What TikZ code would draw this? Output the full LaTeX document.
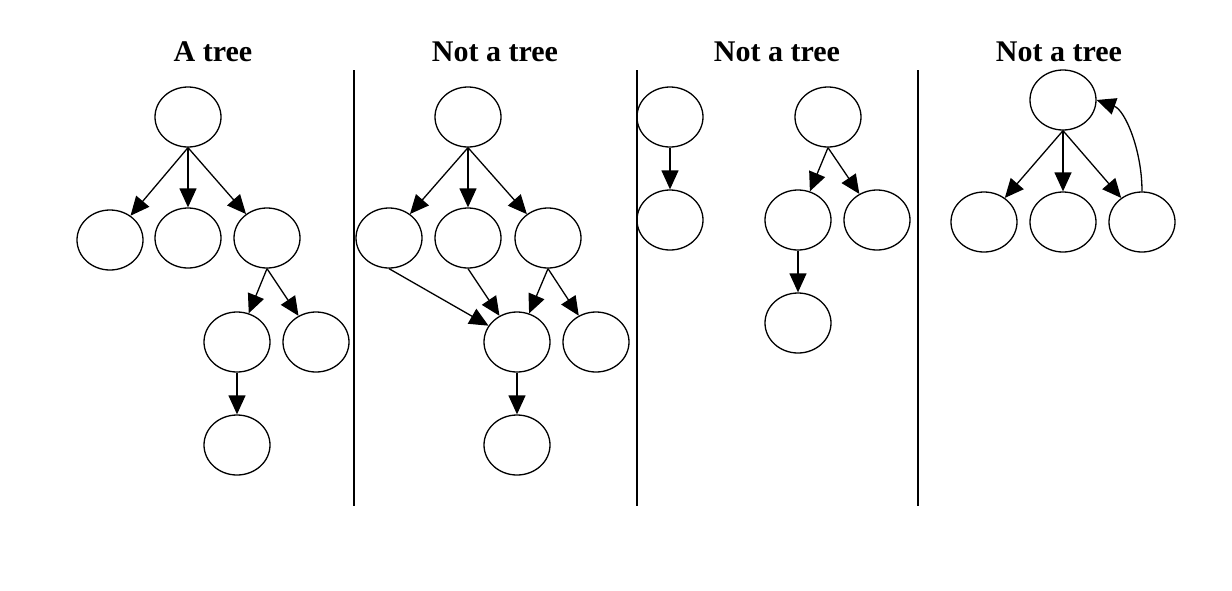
\documentclass[tikz,border=0pt]{standalone}
\usepackage{fontspec}
\setmainfont{Liberation Serif}
\usetikzlibrary{arrows.meta,shapes.geometric}
\begin{document}
\begin{tikzpicture}[x=1pt,y=-1pt,
  n/.style={draw,ellipse,minimum width=66pt,minimum height=60pt,inner sep=0pt,line width=1.3pt},
  e/.style={line width=1.3pt,-{Triangle[length=19pt,width=17pt]}},
  t/.style={font=\fontsize{30}{32}\selectfont\bfseries},
  sep/.style={line width=2.2pt}]
\useasboundingbox (0,0) rectangle (1232,590);
% panel 1
\node[t] (t1) at (213,52) {A tree};
\node[n] (a0) at (188,117) {};
\node[n] (a1) at (110,240) {};
\node[n] (a2) at (188,238) {};
\node[n] (a3) at (267,238) {};
\node[n] (a4) at (237,342) {};
\node[n] (a5) at (316,342) {};
\node[n] (a6) at (237,445) {};
\draw[e] (a0.south) -- (a1);
\draw[e] (a0.south) -- (a2);
\draw[e] (a0.south) -- (a3);
\draw[e] (a3.south) -- (a4);
\draw[e] (a3.south) -- (a5);
\draw[e] (a4) -- (a6);
% dividers
\coordinate (d1t) at (354,70); \coordinate (d1b) at (354,506);
\coordinate (d2t) at (637,70); \coordinate (d2b) at (637,506);
\coordinate (d3t) at (918,70); \coordinate (d3b) at (918,506);
\draw[sep] (d1t) -- (d1b); \draw[sep] (d2t) -- (d2b); \draw[sep] (d3t) -- (d3b);
% panel 2
\node[t] (t2) at (495,52) {Not a tree};
\node[n] (b0) at (468,117) {};
\node[n] (b1) at (389,238) {};
\node[n] (b2) at (468,238) {};
\node[n] (b3) at (548,238) {};
\node[n] (b4) at (517,342) {};
\node[n] (b5) at (596,342) {};
\node[n] (b6) at (517,445) {};
\draw[e] (b0.south) -- (b1);
\draw[e] (b0.south) -- (b2);
\draw[e] (b0.south) -- (b3);
\draw[e] (b1.south) -- (b4);
\draw[e] (b2.south) -- (b4);
\draw[e] (b3.south) -- (b4);
\draw[e] (b3.south) -- (b5);
\draw[e] (b4) -- (b6);
% panel 3
\node[t] (t3) at (777,52) {Not a tree};
\node[n] (c0) at (670,117) {};
\node[n] (c1) at (670,220) {};
\node[n] (c2) at (828,117) {};
\node[n] (c3) at (798,220) {};
\node[n] (c4) at (877,220) {};
\node[n] (c5) at (798,323) {};
\draw[e] (c0) -- (c1);
\draw[e] (c2.south) -- (c3);
\draw[e] (c2.south) -- (c4);
\draw[e] (c3) -- (c5);
% panel 4
\node[t] (t4) at (1059,52) {Not a tree};
\node[n] (d0) at (1063,100) {};
\node[n] (d1) at (984,222) {};
\node[n] (d2) at (1063,222) {};
\node[n] (d3) at (1142,222) {};
\draw[e] (d0.south) -- (d1);
\draw[e] (d0.south) -- (d2);
\draw[e] (d0.south) -- (d3);
\draw[e] (d3.north) .. controls (1142,150) and (1125,110) .. (d0.east);
\end{tikzpicture}
\end{document}
